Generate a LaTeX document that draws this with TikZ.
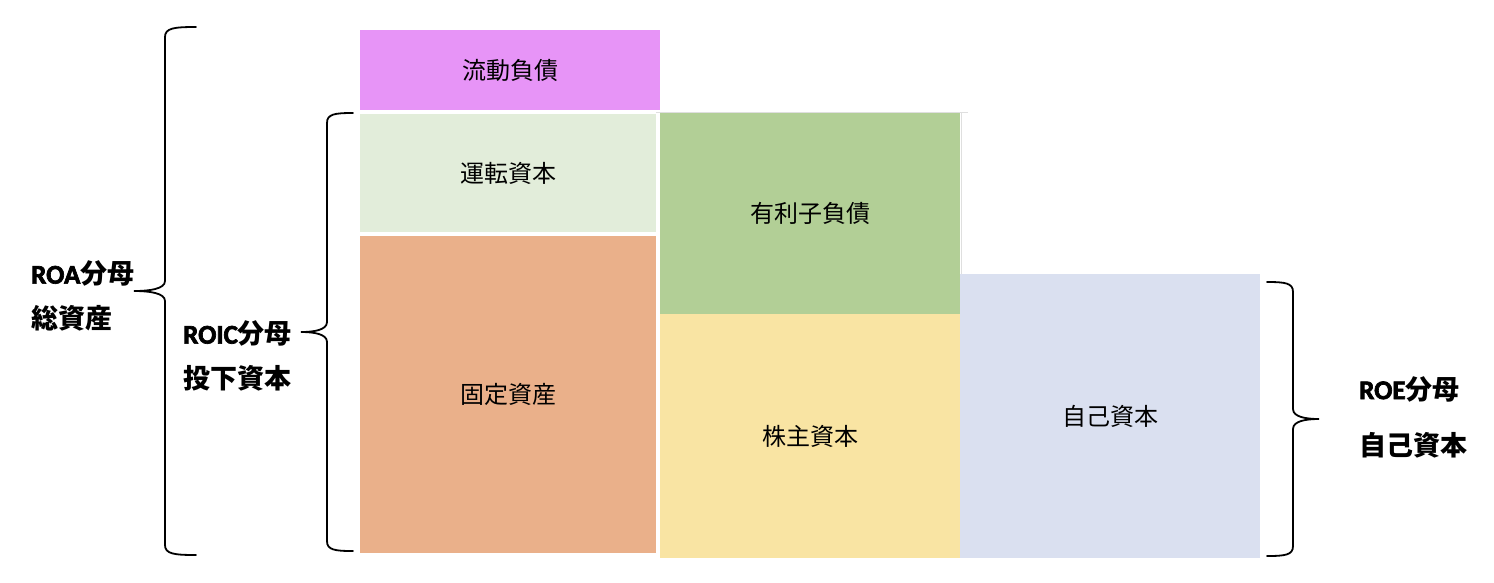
\documentclass[tikz,border=0pt]{standalone}
\usepackage{fontspec}
\setmainfont{Noto Sans CJK JP}
\newfontfamily\latinb{Carlito}[FakeBold=2.5]
\usepackage{tikz}

\definecolor{ryudoCol}{RGB}{231,148,247}
\definecolor{untenCol}{RGB}{226,237,218}
\definecolor{koteiCol}{RGB}{234,176,138}
\definecolor{yurishiCol}{RGB}{178,207,150}
\definecolor{kabunushiCol}{RGB}{249,228,163}
\definecolor{jikoCol}{RGB}{218,224,240}

% curly bracket: x of the ends, top y, bottom y, half width (>0 tip to the left)
\newcommand{\kakko}[4]{%
  \draw[brc] (#1,#2)
    .. controls ({#1-0.7*(#4)},#2) and ({#1-(#4)},{#2+1}) .. ({#1-(#4)},{#2+10})
    -- ({#1-(#4)},{(#2+#3)/2-10})
    .. controls ({#1-(#4)},{(#2+#3)/2-2}) and ({#1-1.5*(#4)},{(#2+#3)/2}) .. ({#1-2*(#4)},{(#2+#3)/2})
    .. controls ({#1-1.5*(#4)},{(#2+#3)/2}) and ({#1-(#4)},{(#2+#3)/2+2}) .. ({#1-(#4)},{(#2+#3)/2+10})
    -- ({#1-(#4)},{#3-10})
    .. controls ({#1-(#4)},{#3-1}) and ({#1-0.7*(#4)},#3) .. (#1,#3);
}

\begin{document}
\begin{tikzpicture}[x=1pt,y=-1pt,
    blk/.style={anchor=north west,inner sep=0pt,outer sep=0pt,font=\fontsize{24}{28}\selectfont},
    lbl/.style={anchor=west,align=left,inner sep=0pt,font=\fontsize{27}{45}\selectfont\bfseries},
    brc/.style={line width=1.8pt,line cap=round}]
                \useasboundingbox (0,0) rectangle (1494,582);

                % assets side
                \node[blk,fill=ryudoCol,minimum width=300pt,minimum height=80pt] (ryudo) at (360,30) {流動負債};
                \node[blk,fill=untenCol,minimum width=296pt,minimum height=118pt] (unten) at (360,114) {運転資本};
                \node[blk,fill=koteiCol,minimum width=296pt,minimum height=317pt] (kotei) at (360,236) {固定資産};

                % funding side
                \node[blk,fill=yurishiCol,minimum width=300pt,minimum height=202pt] (yurishi) at (660,112) {有利子負債};
                \node[blk,fill=kabunushiCol,minimum width=300pt,minimum height=244pt] (kabunushi) at (660,314) {株主資本};
                \node[blk,fill=jikoCol,minimum width=300pt,minimum height=284pt] (jiko) at (960,274) {自己資本};

                \draw[gray!25,line width=1pt] (656,112) -- (968,112);
                \draw[gray!25,line width=1pt] (961,112) -- (961,274);

                % brackets
                \kakko{196}{27}{555}{31}
                \kakko{353}{113}{551}{26}
                \kakko{1267}{282}{556}{-26}

                \node[lbl] (roa) at (31,296) {{\latinb ROA}分母\\総資産};
                \node[lbl] (roic) at (183,356) {{\latinb ROIC}分母\\投下資本};
                \node[lbl,font=\fontsize{27}{56}\selectfont\bfseries] (roe) at (1359,417) {{\latinb ROE}分母\\自己資本};
\end{tikzpicture}
\end{document}
